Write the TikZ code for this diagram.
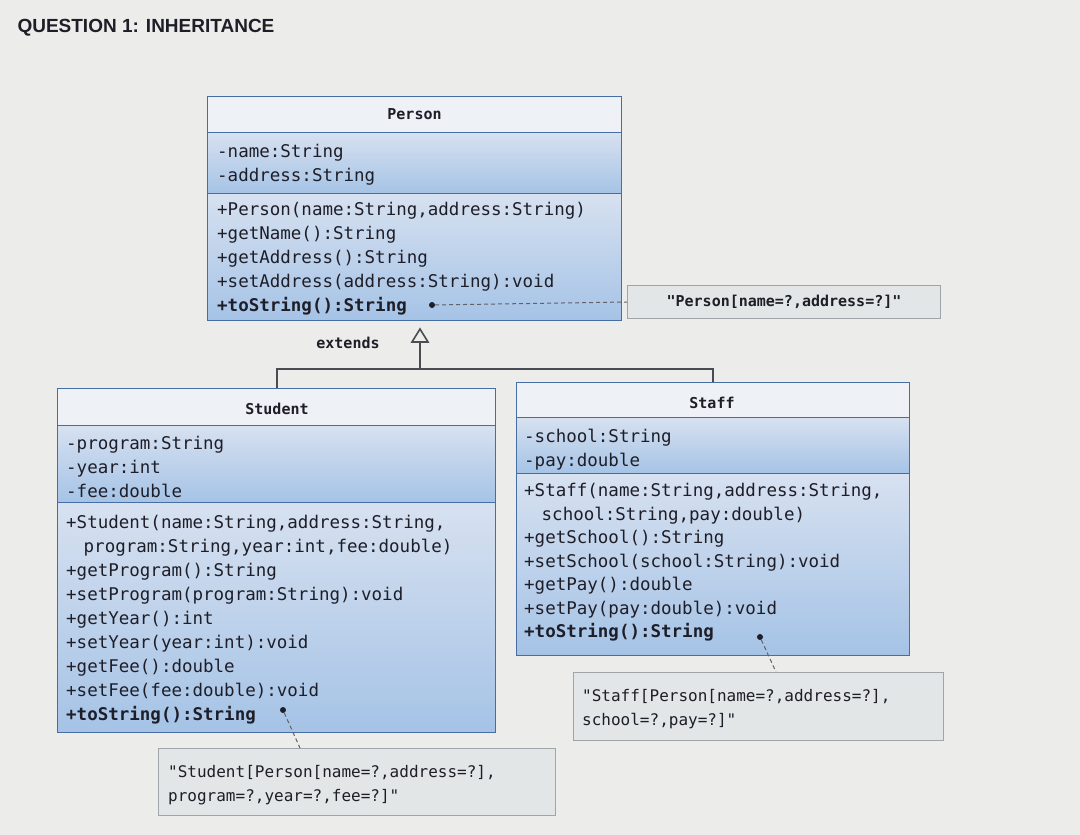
\documentclass[tikz,border=0pt]{standalone}
\usepackage{fontspec}
\newfontfamily\monof{DejaVu Sans Mono}
\newfontfamily\sansf{Liberation Sans}
\usetikzlibrary{arrows.meta}
\definecolor{bg}{RGB}{236,236,234}
\definecolor{bord}{RGB}{70,110,165}
\definecolor{boxtop}{RGB}{215,225,240}
\definecolor{boxbot}{RGB}{165,195,230}
\definecolor{hdr}{RGB}{238,241,245}
\definecolor{notef}{RGB}{226,230,230}
\definecolor{noteb}{RGB}{160,165,170}
\definecolor{txt}{RGB}{30,30,40}
\tikzset{
 sect/.style={draw=bord,line width=1pt,shade,top color=boxtop,bottom color=boxbot,anchor=north west,inner sep=0},
 hdrbox/.style={draw=bord,line width=1pt,fill=hdr,anchor=north west,inner sep=0},
 notebox/.style={draw=noteb,line width=1pt,fill=notef,anchor=north west,inner sep=0},
 code/.style={font=\monof\fontsize{17.5}{24}\selectfont,anchor=north west,align=left,inner sep=0,text=txt},
 hd/.style={font=\monof\bfseries\fontsize{15}{18}\selectfont,text=txt},
 conn/.style={dash pattern=on 4pt off 3pt,line width=1pt,draw=txt!70},
 gen/.style={line width=1.6pt,draw=txt!80},
 dotn/.style={circle,fill=txt,inner sep=0,minimum size=6pt}
}
\begin{document}
\begin{tikzpicture}[x=1pt,y=-1pt]
\fill[bg] (0,0) rectangle (1080,835);
\useasboundingbox (0,0) rectangle (1080,835);
\node[font=\sansf\bfseries\fontsize{19}{22}\selectfont,anchor=west,text=txt] (title) at (14,28) {QUESTION 1: INHERITANCE};
% Person
\node[hdrbox,minimum width=414,minimum height=36] (ph) at (207,96) {};
\node[hd] (pht) at (ph.center) {Person};
\node[sect,minimum width=414,minimum height=61] (pa) at (207,132) {};
\node[sect,minimum width=414,minimum height=127] (pm) at (207,193) {};
\node[code] (pat) at (217,144) {-name:String\\-address:String};
\node[code] (pmt) at (217,202) {+Person(name:String,address:String)\\+getName():String\\+getAddress():String\\+setAddress(address:String):void\\\textbf{+toString():String}};
\node[dotn] (pdot) at (432,305) {};
\node[notebox,minimum width=313,minimum height=33] (pn) at (627,285) {};
\node[code,anchor=center,font=\monof\bfseries\fontsize{15}{18}\selectfont] (pnt) at (pn.center) {"Person[name=?,address=?]"};
\draw[conn] (pdot) -- (pn.west);
% extends
\node[font=\monof\bfseries\fontsize{15}{18}\selectfont,text=txt] (ext) at (348,343) {extends};
\draw[gen,fill=bg] (420,329) -- (428,342) -- (412,342) -- cycle;
\coordinate (j) at (420,369);
% Student
\node[hdrbox,minimum width=438,minimum height=37] (sh) at (57,388) {};
\node[hd] (sht) at (277,409) {Student};
\node[sect,minimum width=438,minimum height=77] (sa) at (57,425) {};
\node[sect,minimum width=438,minimum height=230] (sm) at (57,502) {};
\node[code] (sat) at (66,436) {-program:String\\-year:int\\-fee:double};
\node[code] (smt) at (66,515) {+Student(name:String,address:String,\\\quad program:String,year:int,fee:double)\\+getProgram():String\\+setProgram(program:String):void\\+getYear():int\\+setYear(year:int):void\\+getFee():double\\+setFee(fee:double):void\\\textbf{+toString():String}};
\node[dotn] (sdot) at (283,710) {};
\node[notebox,minimum width=397,minimum height=67] (sn) at (158,748) {};
\node[code,font=\monof\fontsize{16}{24}\selectfont] (snt) at (168,765) {"Student[Person[name=?,address=?],\\program=?,year=?,fee=?]"};
\draw[conn] (sdot) -- (300,748);
% Staff
\node[hdrbox,minimum width=393,minimum height=35] (th) at (516,382) {};
\node[hd] (tht) at (712,403) {Staff};
\node[sect,minimum width=393,minimum height=56] (ta) at (516,417) {};
\node[sect,minimum width=393,minimum height=182] (tm) at (516,473) {};
\node[code] (tat) at (524,429) {-school:String\\-pay:double};
\node[code,font=\monof\fontsize{17.5}{23.5}\selectfont] (tmt) at (524,483) {+Staff(name:String,address:String,\\\quad school:String,pay:double)\\+getSchool():String\\+setSchool(school:String):void\\+getPay():double\\+setPay(pay:double):void\\\textbf{+toString():String}};
\node[dotn] (tdot) at (760,637) {};
\node[notebox,minimum width=370,minimum height=68] (tn) at (573,672) {};
\node[code,font=\monof\fontsize{16}{24}\selectfont] (tnt) at (582,689) {"Staff[Person[name=?,address=?],\\school=?,pay=?]"};
\draw[conn] (tdot) -- (776,672);
% generalization
\draw[gen] (420,342) -- (j);
\draw[gen] (277,388) |- (j) -| (713,382);
\end{tikzpicture}
\end{document}
